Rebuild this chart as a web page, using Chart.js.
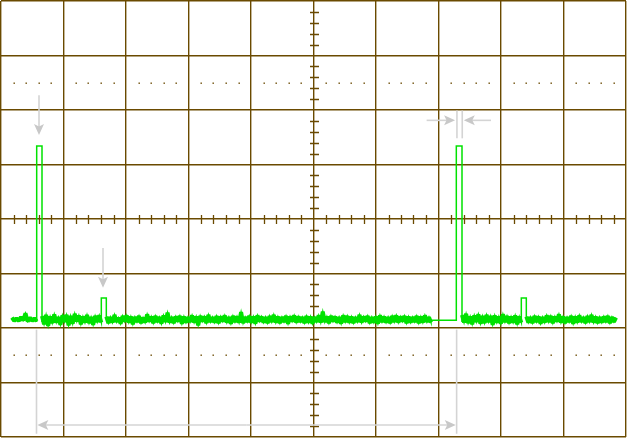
<!DOCTYPE html>
<html>
<head>
<meta charset="utf-8">
<script src="https://cdn.jsdelivr.net/npm/chart.js@4/dist/chart.umd.min.js"></script>
<style>
  html, body { margin: 0; padding: 0; background: #ffffff; }
  #wrap { width: 627px; height: 439px; }
</style>
</head>
<body>
<div id="wrap"><canvas id="c" width="627" height="439"></canvas></div>
<script>
// ---- Data (screen divisions: x 0..10, y -4..4) ----
const BASELINE = -1.84;
const FLAT_LEVEL = -1.86;
const PULSE_HIGH = 1.34;
const SMALL_PULSE_HIGH = -1.45;

// segment boundaries (x in divisions)
const segStart = [0.176, 0.656, 1.685, 7.376, 8.405];
const segEnd   = [0.571, 1.605, 6.880, 8.325, 9.840];

// noise deviations (divisions, relative to baseline)
const noise1 = [0.03,-0.03,0.02,-0.03,0.04,-0.02,0.11,-0.04,0.03,-0.03,0.02,-0.04];
const noise2 = [0.06,-0.09,0.08,-0.12,0.05,-0.07,0.09,-0.06,0.04,-0.10,0.07,-0.05,0.08,-0.11,0.06,
                -0.08,0.10,-0.04,0.07,-0.09,0.05,-0.06,0.08,-0.07,0.04,-0.10,0.06,-0.05,0.07,-0.06];
const noise3 = [0.05,-0.07,0.04,-0.06,0.08,-0.05,0.03,-0.08,0.06,-0.04,
                0.07,-0.06,0.05,-0.09,0.04,-0.05,0.06,-0.07,0.03,-0.06,
                0.09,-0.04,0.05,-0.07,0.06,-0.05,0.04,-0.08,0.07,-0.05,
                0.12,-0.06,0.04,-0.07,0.05,-0.04,0.06,-0.08,0.05,-0.06,
                0.04,-0.05,0.07,-0.06,0.05,-0.11,0.06,-0.04,0.05,-0.07,
                0.08,-0.05,0.04,-0.06,0.06,-0.07,0.05,-0.04,0.07,-0.06,
                0.04,-0.08,0.06,-0.05,0.05,-0.06,0.13,-0.07,0.04,-0.05,
                0.06,-0.06,0.05,-0.08,0.07,-0.04,0.05,-0.06,0.04,-0.07,
                0.06,-0.05,0.08,-0.06,0.05,-0.07,0.04,-0.05,0.06,-0.08,
                0.05,-0.04,0.07,-0.06,0.05,-0.05,0.04,-0.07,0.06,-0.06,
                0.05,-0.08,0.04,-0.05,0.07,-0.06,0.14,-0.05,0.05,-0.07,
                0.06,-0.04,0.05,-0.06,0.04,-0.08,0.07,-0.05,0.06,-0.06,
                0.05,-0.07,0.04,-0.05,0.08,-0.06,0.05,-0.04,0.06,-0.07,
                0.04,-0.06,0.05,-0.08,0.07,-0.05,0.05,-0.06,0.04,-0.07,
                0.06,-0.05,0.07,-0.06,0.05,-0.04,0.06,-0.07,0.05,-0.06,
                0.04,-0.05,0.06,-0.07,0.05,-0.06,0.07,-0.05,0.04,-0.06];
const noise4 = [0.08,-0.06,0.10,-0.07,0.05,-0.09,0.07,-0.05,0.09,-0.08,0.06,-0.07,0.08,-0.05,0.06,
                -0.10,0.07,-0.06,0.05,-0.08,0.09,-0.05,0.06,-0.07,0.05,-0.06,0.07,-0.09,0.05,-0.06];
const noise5 = [0.05,-0.06,0.04,-0.07,0.06,-0.05,0.05,-0.08,0.04,-0.06,0.07,-0.05,0.06,-0.07,0.05,
                -0.04,0.09,-0.06,0.05,-0.07,0.04,-0.05,0.06,-0.08,0.05,-0.06,0.07,-0.05,0.04,-0.07,
                0.06,-0.05,0.08,-0.06,0.05,-0.07,0.04,-0.06,0.05,-0.05,0.06,-0.07,0.04,-0.05,0.03];
const noiseSegs = [noise1, noise2, noise3, noise4, noise5];

// pulses: [x start, x end, level]
const pulseStart = [0.571, 1.605, 7.285, 8.325];
const pulseEnd   = [0.656, 1.685, 7.376, 8.405];
const pulseLevel = [PULSE_HIGH, SMALL_PULSE_HIGH, PULSE_HIGH, SMALL_PULSE_HIGH];

// ---- Build trace points ----
function noisePts(i) {
  const arr = noiseSegs[i], n = arr.length, out = [];
  for (let k = 0; k < n; k++) {
    out.push({ x: segStart[i] + (segEnd[i] - segStart[i]) * k / (n - 1), y: BASELINE + arr[k] });
  }
  return out;
}
function pulsePts(j, fromY, toY) {
  return [
    { x: pulseStart[j], y: fromY },
    { x: pulseStart[j], y: pulseLevel[j] },
    { x: pulseEnd[j], y: pulseLevel[j] },
    { x: pulseEnd[j], y: toY }
  ];
}
let trace = [];
trace = trace.concat(noisePts(0));
trace = trace.concat(pulsePts(0, BASELINE - 0.05, BASELINE - 0.05));
trace = trace.concat(noisePts(1));
trace = trace.concat(pulsePts(1, BASELINE + 0.03, BASELINE + 0.03));
trace = trace.concat(noisePts(2));
trace.push({ x: segEnd[2], y: FLAT_LEVEL });
trace = trace.concat(pulsePts(2, FLAT_LEVEL, BASELINE - 0.05));
trace = trace.concat(noisePts(3));
trace = trace.concat(pulsePts(3, BASELINE + 0.03, BASELINE + 0.03));
trace = trace.concat(noisePts(4));

// noise-only overlay (thicker band), gaps between segments
let noiseBand = [];
for (let i = 0; i < noiseSegs.length; i++) {
  noiseBand = noiseBand.concat(noisePts(i));
  noiseBand.push({ x: segEnd[i] + 0.001, y: null });
}

// ---- Styles ----
const GRID = '#6a4a00';
const GREY = '#d4d4d4';
const GREY_HEAD = '#c8c8c8';
const GREEN = '#00e200';

const graticule = {
  id: 'graticule',
  beforeDatasetsDraw(chart) {
    const { ctx, scales: { x, y } } = chart;
    ctx.save();
    ctx.fillStyle = GRID;
    [2.5, -2.5].forEach(v => {
      const py = Math.round(y.getPixelForValue(v));
      for (let k = 1; k < 50; k++) {
        if (k % 5 === 0) continue;
        const px = Math.round(x.getPixelForValue(k / 5));
        ctx.fillRect(px - 0.5, py - 0.5, 1.4, 1.4);
      }
    });
    ctx.strokeStyle = GRID;
    ctx.lineWidth = 1.3;
    const cy = Math.round(y.getPixelForValue(0)) + 0.5;
    const cx = Math.round(x.getPixelForValue(5)) + 0.5;
    ctx.beginPath();
    for (let k = 1; k < 50; k++) {
      if (k % 5 === 0) continue;
      const px = Math.round(x.getPixelForValue(k / 5)) + 0.5;
      ctx.moveTo(px, cy - 4.5); ctx.lineTo(px, cy + 4.5);
    }
    for (let k = 1; k < 40; k++) {
      if (k % 5 === 0) continue;
      const py = Math.round(y.getPixelForValue(-4 + k / 5)) + 0.5;
      ctx.moveTo(cx - 4.5, py); ctx.lineTo(cx + 4.5, py);
    }
    ctx.stroke();

    const P = (vx, vy) => [x.getPixelForValue(vx), y.getPixelForValue(vy)];
    function line(a, b) {
      ctx.strokeStyle = GREY; ctx.lineWidth = 1.6;
      ctx.beginPath(); ctx.moveTo(a[0], a[1]); ctx.lineTo(b[0], b[1]); ctx.stroke();
    }
    function arrow(a, b) {
      const dx = b[0] - a[0], dy = b[1] - a[1], L = Math.hypot(dx, dy);
      const ux = dx / L, uy = dy / L, hl = 11, hw = 5;
      const base = [b[0] - ux * hl, b[1] - uy * hl];
      line(a, [b[0] - ux * 4, b[1] - uy * 4]);
      ctx.fillStyle = GREY_HEAD;
      ctx.beginPath();
      ctx.moveTo(b[0], b[1]);
      ctx.lineTo(base[0] - uy * hw, base[1] + ux * hw);
      ctx.lineTo(base[0] + ux * 2.5, base[1] + uy * 2.5);
      ctx.lineTo(base[0] + uy * hw, base[1] - ux * hw);
      ctx.closePath(); ctx.fill();
    }
    arrow(P(0.608, 2.27), P(0.608, 1.54));
    arrow(P(1.632, -0.53), P(1.632, -1.26));
    line(P(0.568, -2.03), P(0.568, -3.94));
    line(P(7.290, -2.03), P(7.290, -3.94));
    const mid = P(3.93, -3.78);
    arrow(mid, P(0.582, -3.78));
    arrow(mid, P(7.276, -3.78));
    line(P(7.295, 1.99), P(7.295, 1.48));
    line(P(7.380, 1.99), P(7.380, 1.48));
    arrow(P(6.81, 1.81), P(7.265, 1.81));
    arrow(P(7.84, 1.81), P(7.405, 1.81));
    ctx.restore();
  }
};

new Chart(document.getElementById('c'), {
  type: 'line',
  data: {
    datasets: [{
      data: trace,
      borderColor: GREEN,
      borderWidth: 1.5,
      pointRadius: 0,
      tension: 0,
      fill: false
    }, {
      data: noiseBand,
      borderColor: GREEN,
      borderWidth: 4,
      borderJoinStyle: 'bevel',
      pointRadius: 0,
      tension: 0,
      fill: false,
      spanGaps: false
    }]
  },
  options: {
    responsive: false,
    animation: false,
    events: [],
    layout: { padding: { left: 1, right: 1, top: 1, bottom: 2 } },
    plugins: { legend: { display: false }, tooltip: { enabled: false } },
    scales: {
      x: {
        type: 'linear', min: 0, max: 10,
        ticks: { display: false, stepSize: 1 },
        grid: { color: GRID, lineWidth: 1.4, drawTicks: false },
        border: { display: false }
      },
      y: {
        type: 'linear', min: -4, max: 4,
        ticks: { display: false, stepSize: 1 },
        grid: { color: GRID, lineWidth: 1.4, drawTicks: false },
        border: { display: false }
      }
    }
  },
  plugins: [graticule]
});
</script>
</body>
</html>
